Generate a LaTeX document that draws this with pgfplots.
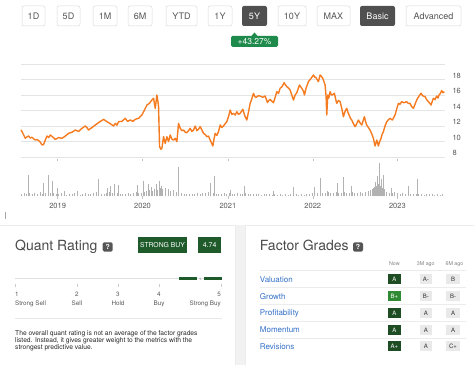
\documentclass[border=0pt]{standalone}
\usepackage{pgfplots}
\pgfplotsset{compat=1.18}
\usepackage{fontspec}
\setmainfont{TeX Gyre Heros}
\definecolor{orangeline}{HTML}{F47B20}
\definecolor{volgray}{HTML}{B2B2B2}
\definecolor{gridgray}{HTML}{E4E4E4}
\definecolor{btnborder}{HTML}{DADADA}
\definecolor{btntext}{HTML}{555555}
\definecolor{btnactive}{HTML}{505050}
\definecolor{badge}{HTML}{1E8A4B}
\definecolor{sbgreen}{HTML}{1F5A2B}
\definecolor{gradegreen}{HTML}{1E4D24}
\definecolor{gradelight}{HTML}{2F8A33}
\definecolor{gradegray}{HTML}{E9E9E9}
\definecolor{linkblue}{HTML}{3370C8}
\definecolor{titlegray}{HTML}{4A4A4A}
\definecolor{bggray}{HTML}{F2F2F2}
\newcommand\fs[1]{\fontsize{#1bp}{#1bp}\selectfont}
\begin{document}
\begin{tikzpicture}
\path[use as bounding box] (0,0) rectangle (474bp,365bp);
\clip (0,0) rectangle (474bp,365bp);
% price axis
\begin{axis}[at={(21bp,208bp)}, anchor=south west, scale only axis,
  width=424bp, height=93bp, xmin=62, xmax=1335, ymin=8, ymax=20,
  axis line style={draw=none}, xtick=\empty,
  ytick={8,10,12,14,16,18,20}, yticklabels={8,10,12,14,16,18,{}},
  ymajorgrids, grid style={gridgray, line width=0.6bp},
  major tick length=0pt, yticklabel pos=right,
  yticklabel style={font=\fs{7.5}, text=btntext, anchor=west, xshift=4bp, yshift=4bp},
  /pgf/number format/assume math mode=true, clip=false]
\addplot[orangeline, line width=1.4bp, line join=round] coordinates {
(62,11.48)(66,11.2)(70,10.84)(75,10.41)(80,10.6)(85,10.71)(90,10.45)(95,10.54)(100,10.35)(105,10.19)(110,10.25)(115,10.11)(120,9.9)(125,9.55)(130,9.63)(135,10.2)(140,10.71)(145,10.5)(150,10.84)(158,10.55)(165,10.28)(175,10.5)(185,10.41)(195,10.7)(205,11.05)(215,11.2)(225,11.48)(235,11.3)(245,11.70)(255,12.00)(260,11.8)(265,11.48)(275,11.8)(285,12.13)(297,12.5)(310,12.86)(315,12.7)(320,12.56)(330,12.3)(340,12.00)(345,12.34)(350,12.1)(355,12.56)(365,12.6)(375,12.99)(382,12.6)(390,12.77)(398,12.6)(405,12.86)(415,13.0)(425,13.42)(432,14.0)(440,14.71)(447,14.9)(455,15.35)(460,15.57)(463,14.8)(465,14.28)(470,16.00)(473,15.2)(475,14.49)(478,9.33)(482,9.0)(485,9.12)(490,10.62)(495,9.76)(500,10.62)(505,9.98)(510,10.84)(515,10.3)(520,10.19)(525,10.41)(530,9.98)(535,12.34)(540,11.70)(545,11.4)(550,11.48)(555,11.2)(560,11.14)(565,11.4)(570,11.70)(575,11.3)(580,11.48)(585,12.00)(590,11.40)(595,11.6)(600,11.91)(605,11.5)(610,11.05)(615,10.9)(620,10.62)(625,10.7)(630,10.19)(634,9.8)(638,9.42)(641,10.2)(645,11.05)(650,10.8)(655,11.27)(660,12.13)(665,11.8)(670,12.00)(675,12.3)(680,12.56)(685,13.2)(690,14.06)(695,13.5)(700,13.63)(705,13.4)(710,13.85)(715,13.5)(720,13.63)(728,14.15)(734,13.3)(740,12.77)(745,13.8)(750,14.92)(755,15.5)(760,16.22)(764,15.8)(768,15.70)(774,15.9)(780,15.87)(788,15.7)(795,15.87)(802,15.01)(806,15.3)(810,15.44)(815,15.2)(820,15.01)(825,15.7)(830,16.43)(835,16.2)(840,16.86)(846,17.1)(852,17.59)(856,17.3)(860,17.08)(865,16.9)(870,16.65)(875,16.0)(880,15.35)(885,16.0)(890,16.30)(895,16.9)(898,17.29)(905,16.86)(910,16.5)(913,16.00)(918,16.9)(925,17.72)(932,18.1)(940,18.58)(944,18.3)(947,18.28)(951,18.0)(955,17.72)(960,18.58)(964,18.4)(968,18.15)(971,17.8)(975,17.29)(978,15.8)(980,13.42)(983,16.00)(986,15.6)(990,16.43)(994,16.0)(997,16.00)(1003,16.22)(1007,15.4)(1010,14.92)(1015,15.3)(1020,15.14)(1025,14.3)(1030,13.20)(1035,13.9)(1040,14.28)(1044,13.7)(1047,13.42)(1051,13.0)(1055,12.77)(1060,12.3)(1065,11.91)(1070,12.3)(1075,12.77)(1080,12.4)(1085,12.13)(1090,12.8)(1093,13.20)(1097,12.5)(1100,12.13)(1105,11.8)(1110,11.48)(1115,11.0)(1120,10.41)(1125,9.42)(1128,9.8)(1130,10.19)(1133,9.8)(1135,9.42)(1139,10.0)(1143,10.41)(1146,10.9)(1150,11.27)(1155,12.0)(1160,12.56)(1165,12.8)(1170,12.99)(1177,12.77)(1185,13.42)(1190,14.2)(1195,14.92)(1200,14.8)(1205,15.14)(1212,15.0)(1220,15.14)(1225,14.9)(1230,14.92)(1235,14.5)(1240,14.28)(1245,14.8)(1250,15.35)(1256,15.8)(1263,16.22)(1268,15.9)(1275,15.79)(1280,15.4)(1285,15.14)(1290,14.9)(1293,14.71)(1297,15.2)(1300,15.57)(1305,15.4)(1310,15.87)(1314,15.6)(1317,16.00)(1321,16.2)(1325,16.56)(1329,16.3)(1333,16.43)
};
\end{axis}
% volume axis
\begin{axis}[at={(21bp,168.5bp)}, anchor=south west, scale only axis,
  width=424bp, height=35bp, xmin=62, xmax=1335, ymin=0, ymax=35,
  axis line style={draw=none}, ytick=\empty,
  xtick={172,427,683,938,1192}, xticklabels={2019,2020,2021,2022,2023},
  tick align=outside, major tick length=2.5bp, xtick style={draw=gray!50, line width=0.4bp},
  xticklabel style={font=\fs{7.5}, text=btntext, yshift=-1bp},
  clip=false]
\addplot[ycomb, volgray, line width=1bp] coordinates {
(64,2)(72,3)(80,2.5)(88,3)(96,2)(104,3.5)(112,2)(120,4)(128,2.5)(136,3)(144,4)(152,3)(160,3.5)(168,2.5)(176,2)(184,3)(192,2)(200,1.5)(208,2.5)(216,2)(224,3)(232,2)(240,1.5)(248,2)(256,3)(264,2.5)(272,2)(280,3)(288,4)(296,3)(304,2.5)(312,2)(320,3)(328,4)(336,3)(344,3.5)(352,3)(360,2)(368,2)(376,2.5)(384,3)(392,2)(400,3)(408,4)(416,3)(424,3.5)(432,4)(440,5)(448,6)(456,5)(464,7)(472,6)(480,8)(488,7)(496,6)(504,7)(512,5)(520,6)(528,4)(536,5)(544,3)(552,2.5)(560,2)(568,2)(576,2.5)(584,2)(592,3)(600,2.5)(608,3)(616,3.5)(624,4)(632,3)(640,3.5)(648,2.5)(656,2)(664,2.5)(672,3)(680,2)(688,3)(696,2.5)(704,2)(712,3)(720,2.5)(728,2)(736,3)(744,2)(752,2.5)(760,2)(768,2.5)(776,2)(784,1.5)(792,2)(800,2.5)(808,2)(816,1.5)(824,2)(832,1.5)(840,2)(848,1.5)(856,2)(864,1.5)(872,2)(880,2.5)(888,2)(896,1.5)(904,2)(912,1.5)(920,2)(928,2.5)(936,3)(944,4)(952,3.5)(960,4)(968,3)(976,3.5)(984,4)(992,3)(1000,3.5)(1008,4)(1016,3)(1024,3.5)(1032,4)(1040,3.5)(1048,3)(1056,4)(1064,3.5)(1072,3)(1080,4)(1088,3.5)(1096,4)(1104,5)(1112,6)(1116,7)(1120,8)(1124,9)(1128,10)(1132,11)(1136,12)(1140,10)(1144,9)(1148,8)(1152,7)(1160,4)(1168,3)(1176,3.5)(1184,4)(1192,3)(1200,2.5)(1208,3)(1216,2.5)(1224,3)(1232,2)(1240,2.5)(1248,2)(1256,2.5)(1264,2)(1272,1.5)(1280,2)(1288,2.5)(1296,2)(1304,1.5)(1312,2)(1320,1.5)(1328,2)
};
\addplot[ycomb, volgray, line width=0.8bp] coordinates {
(85,21.7)(130,13)(145,21)(157,15)(170,8)(192,5)(230,5)(293,17)(320,8)(330,10)(342,12)(353,11.7)(410,11.7)(430,15)(443,12)(455,9)(468,12)(477,15)(485,10)(495,8)(505,7)(535,29)(630,13)(642,20)(690,6.7)(733,10)(820,5)(880,9)(943,9)(962,18)(983,5)(1011,13)(1030,19)(1053,10)(1125,14)(1133,20)(1139,33)(1145,17)(1150,21.5)(1173,8)(1225,10)(1253,17.5)
};
\end{axis}
% UI elements
\begin{scope}[x=1bp,y=-1bp,shift={(0,365bp)}]
\newcommand\btn[3]{\draw[rounded corners=2bp, draw=btnborder, fill=white, line width=0.5bp] (#1,6) rectangle (#2,26);
  \node[font=\fs{9}, text=btntext] at ({(#1+#2)/2},16) {#3};}
\newcommand\btnact[3]{\fill[rounded corners=2bp, btnactive] (#1,6) rectangle (#2,26);
  \node[font=\fs{9}, text=white] at ({(#1+#2)/2},16) {#3};}
\btn{22}{45}{1D}
\btn{57}{80}{5D}
\btn{93}{117}{1M}
\btn{128}{152}{6M}
\btn{166}{197}{YTD}
\btn{208}{232}{1Y}
\btnact{242}{267}{5Y}
\btn{278}{306}{10Y}
\btn{317}{350}{MAX}
\btnact{360}{395}{Basic}
\btn{406}{461}{Advanced}
\fill[badge] (251,36.5) -- (254.5,32.5) -- (258,36.5) -- cycle;
\fill[rounded corners=1.5bp, badge] (231,36) rectangle (278,47);
\node[font=\fs{8.5}, text=white] at (254.5,41.5) {+43.27\%};
\draw[gray!70, line width=0.6bp] (5,212) -- (5,219);
% bottom cards
\fill[bggray] (235,225) rectangle (245,365);
\draw[gray!15, line width=0.5bp] (0,225) -- (235,225) -- (235,365);
\draw[gray!15, line width=0.5bp] (474,225) -- (245,225) -- (245,365);
\node[font=\fs{14}, text=titlegray, anchor=base west, inner sep=0] at (15,251) {Quant Rating};
\fill[rounded corners=1.5bp, btntext] (102.7,242.3) rectangle (112.7,251.7);
\node[font=\fs{7}\bfseries, text=white] at (107.7,247) {?};
\fill[sbgreen] (138,237.3) rectangle (187,253.3);
\node[font=\fs{6.8}, text=white] at (162.5,245.3) {STRONG BUY};
\fill[sbgreen] (198,237.3) rectangle (221.3,253.3);
\node[font=\fs{7}, text=white] at (209.6,245.3) {4.74};
\draw[gray!25, line width=1.6bp] (15,278.7) -- (222,278.7);
\draw[sbgreen, line width=2.4bp] (179,278.7) -- (196.5,278.7);
\draw[sbgreen, line width=2.4bp] (204,278.7) -- (221.5,278.7);
\filldraw[fill=gray!60, draw=white, line width=0.6bp] (200.3,278.7) circle (1.8);
\foreach \x in {15,77,118,159,221} {\draw[gray!40, line width=0.4bp] (\x,284) -- (\x,287);}
\node[font=\fs{6.3}, text=btntext, anchor=west, inner sep=0] at (15,294) {1};
\node[font=\fs{6.3}, text=btntext] at (77,294) {2};
\node[font=\fs{6.3}, text=btntext] at (118,294) {3};
\node[font=\fs{6.3}, text=btntext] at (159,294) {4};
\node[font=\fs{6.3}, text=btntext, anchor=east, inner sep=0] at (221,294) {5};
\node[font=\fs{6.3}, text=btntext, anchor=west, inner sep=0] at (15,303.5) {Strong Sell};
\node[font=\fs{6.3}, text=btntext] at (77,303.5) {Sell};
\node[font=\fs{6.3}, text=btntext] at (118,303.5) {Hold};
\node[font=\fs{6.3}, text=btntext] at (159,303.5) {Buy};
\node[font=\fs{6.3}, text=btntext, anchor=east, inner sep=0] at (221,303.5) {Strong Buy};
\draw[gray!18, line width=0.5bp] (15,318.3) -- (222,318.3);
\node[font=\fs{6.7}, text=black!85, anchor=base west, inner sep=0] at (15,335.6) {The overall quant rating is not an average of the factor grades};
\node[font=\fs{6.7}, text=black!85, anchor=base west, inner sep=0] at (15,342.6) {listed. Instead, it gives greater weight to the metrics with the};
\node[font=\fs{6.7}, text=black!85, anchor=base west, inner sep=0] at (15,349.6) {strongest predictive value.};
% factor grades
\node[font=\fs{14}, text=titlegray, anchor=base west, inner sep=0] at (259.7,251) {Factor Grades};
\fill[rounded corners=1.5bp, btntext] (353,242.3) rectangle (363,251.7);
\node[font=\fs{7}\bfseries, text=white] at (358,247) {?};
\node[font=\fs{5.3}, text=gray] at (394.3,264) {Now};
\node[font=\fs{5.3}, text=gray] at (425.8,264) {3M ago};
\node[font=\fs{5.3}, text=gray] at (454.5,264) {6M ago};
\foreach \y in {270.7,287.7,304.3,321.7,338.3} {\draw[gray!15, line width=0.5bp] (259.7,\y) -- (466,\y);}
\newcommand\grow[6]{%
  \node[font=\fs{8}, text=linkblue, anchor=west, inner sep=0] at (259.7,#1) {#2};
  \fill[#6] (387.7,#1-5) rectangle (401,#1+5);
  \node[font=\fs{6}, text=white] at (394.3,#1) {#3};
  \fill[gradegray] (419.7,#1-5) rectangle (432,#1+5);
  \node[font=\fs{6}, text=black!80] at (425.8,#1) {#4};
  \fill[gradegray] (446.3,#1-5) rectangle (459.7,#1+5);
  \node[font=\fs{6}, text=black!80] at (453,#1) {#5};}
\grow{279.3}{Valuation}{A}{A-}{B}{gradegreen}
\grow{296.3}{Growth}{B+}{B-}{B-}{gradelight}
\grow{313.3}{Profitability}{A}{A}{A}{gradegreen}
\grow{330}{Momentum}{A}{A}{A}{gradegreen}
\grow{346.3}{Revisions}{A+}{A}{C+}{gradegreen}
\end{scope}
\end{tikzpicture}
\end{document}
